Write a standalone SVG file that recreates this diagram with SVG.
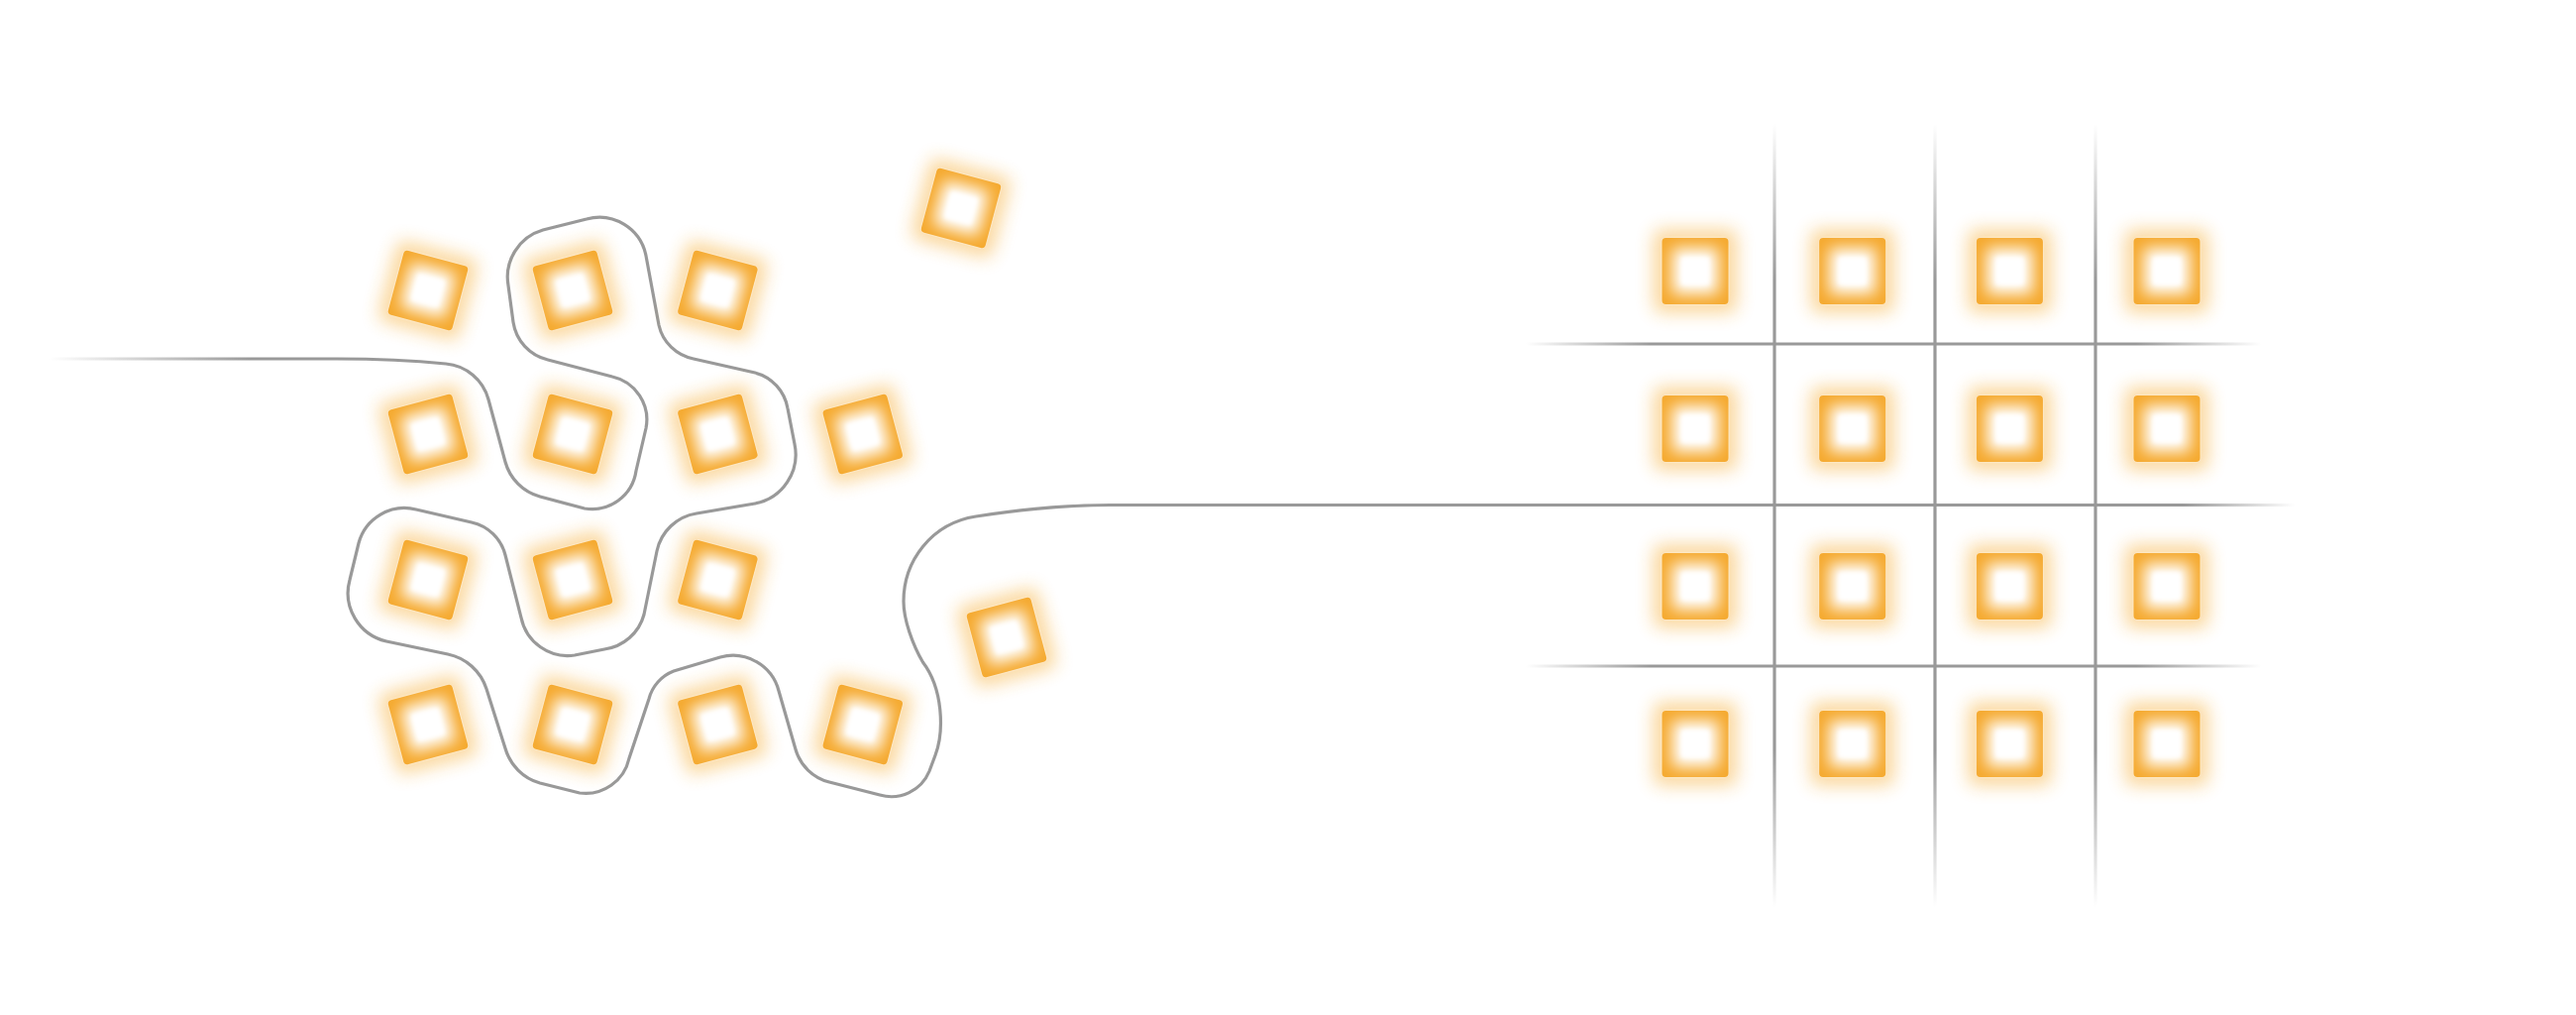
<svg xmlns="http://www.w3.org/2000/svg" width="2600" height="1024" viewBox="0 0 2600 1024">
<style>
.wire{fill:none;stroke-width:3.2}
.glow{fill:#f5a623;opacity:.45;filter:url(#b8)}
.core{fill:#f5a92e}
.ring{fill:none;stroke:#fde6c0;stroke-width:1.5}
.hole{fill:#fff;filter:url(#b5)}
.eye{fill:#fff;filter:url(#b2)}
</style>
<defs>
<filter id="b8" x="-60%" y="-60%" width="220%" height="220%"><feGaussianBlur stdDeviation="9"/></filter>
<filter id="b5" x="-80%" y="-80%" width="260%" height="260%"><feGaussianBlur stdDeviation="7.5"/></filter>
<filter id="b2" x="-60%" y="-60%" width="220%" height="220%"><feGaussianBlur stdDeviation="2"/></filter>
<linearGradient id="gMain" gradientUnits="userSpaceOnUse" x1="50" y1="0" x2="2316" y2="0">
<stop offset="0" stop-color="#999" stop-opacity="0"/><stop offset=".09" stop-color="#999"/><stop offset=".95" stop-color="#999"/><stop offset="1" stop-color="#999" stop-opacity="0"/>
</linearGradient>
<linearGradient id="gH" gradientUnits="userSpaceOnUse" x1="1540" y1="0" x2="2282" y2="0">
<stop offset="0" stop-color="#999" stop-opacity="0"/><stop offset=".17" stop-color="#999"/><stop offset=".83" stop-color="#999"/><stop offset="1" stop-color="#999" stop-opacity="0"/>
</linearGradient>
<linearGradient id="gV" gradientUnits="userSpaceOnUse" x1="0" y1="125" x2="0" y2="915">
<stop offset="0" stop-color="#999" stop-opacity="0"/><stop offset=".2" stop-color="#999"/><stop offset=".8" stop-color="#999"/><stop offset="1" stop-color="#999" stop-opacity="0"/>
</linearGradient>
<g id="sq">
<rect class="glow" x="-42" y="-42" width="84" height="84" rx="8"/>
<rect class="ring" x="-34" y="-34" width="68" height="68" rx="5"/>
<rect class="core" x="-33.5" y="-33.5" width="67" height="67" rx="4"/>
<rect class="hole" x="-23" y="-23" width="46" height="46"/>
<rect class="eye" x="-14" y="-14" width="28" height="28"/>
</g>
</defs>
<rect width="2600" height="1024" fill="#fff"/>
<g id="connectors">
<path id="wire-main" class="wire" stroke="url(#gMain)" d="M50 362H340Q400 362 450 367A49 49 0 0 1 493 403L510 466A50 50 0 0 0 545 501L590 513A45 45 0 0 0 642 475L652 432A44.5 44.5 0 0 0 618 380L553 363A46 46 0 0 1 518 325L513 288A49.5 49.5 0 0 1 548 232L592 221A48 48 0 0 1 652 258L665 328A44.5 44.5 0 0 0 700 362L762 376A45 45 0 0 1 795 412L802 448A50.5 50.5 0 0 1 762 508L703 518A48.5 48.5 0 0 0 663 556L650 620A48 48 0 0 1 610 655L580 661A48 48 0 0 1 526 623L510 560A45 45 0 0 0 476 527L420 514A48 48 0 0 0 362 548L353 585A50 50 0 0 0 390 647L452 660A52 52 0 0 1 491 695L510 755A51 51 0 0 0 545 790L585 800A45 45 0 0 0 635 765L655 705A41 41 0 0 1 680 677L727 663A48 48 0 0 1 786 697L803 756A47.5 47.5 0 0 0 837 789L888 802A41.5 41.5 0 0 0 938 778L944 762C953 738 952 695 931.4 668C921 650 912 625 912 606.7C912 566 940 528 985 521C1015 516 1070 509.5 1120 509.5H2316"/>
<path class="wire" stroke="url(#gH)" d="M1540 347H2282"/>
<path class="wire" stroke="url(#gH)" d="M1540 672H2282"/>
<path class="wire" stroke="url(#gV)" d="M1791 125V915"/>
<path class="wire" stroke="url(#gV)" d="M1953 125V915"/>
<path class="wire" stroke="url(#gV)" d="M2115 125V915"/>
</g>
<g id="scattered">
<g id="s1"><use href="#sq" transform="translate(432 293) rotate(15)"/></g>
<g id="s2"><use href="#sq" transform="translate(578 293) rotate(-15)"/></g>
<g id="s3"><use href="#sq" transform="translate(724.4 293) rotate(15)"/></g>
<g id="s4"><use href="#sq" transform="translate(970 210) rotate(15)"/></g>
<g id="s5"><use href="#sq" transform="translate(432 438) rotate(-15)"/></g>
<g id="s6"><use href="#sq" transform="translate(578 438) rotate(15)"/></g>
<g id="s7"><use href="#sq" transform="translate(724.4 438) rotate(-15)"/></g>
<g id="s8"><use href="#sq" transform="translate(870.8 438) rotate(-15)"/></g>
<g id="s9"><use href="#sq" transform="translate(432 585) rotate(15)"/></g>
<g id="s10"><use href="#sq" transform="translate(578 585) rotate(-15)"/></g>
<g id="s11"><use href="#sq" transform="translate(724.4 585) rotate(15)"/></g>
<g id="s12"><use href="#sq" transform="translate(1016 643) rotate(-15)"/></g>
<g id="s13"><use href="#sq" transform="translate(432 731) rotate(-15)"/></g>
<g id="s14"><use href="#sq" transform="translate(578 731) rotate(15)"/></g>
<g id="s15"><use href="#sq" transform="translate(724.4 731) rotate(-15)"/></g>
<g id="s16"><use href="#sq" transform="translate(870.8 731) rotate(15)"/></g>
</g>
<g id="grid">
<g id="a1"><use href="#sq" x="1711" y="273.5"/></g>
<g id="a2"><use href="#sq" x="1869.7" y="273.5"/></g>
<g id="a3"><use href="#sq" x="2028.4" y="273.5"/></g>
<g id="a4"><use href="#sq" x="2187" y="273.5"/></g>
<g id="b1"><use href="#sq" x="1711" y="432.5"/></g>
<g id="b2"><use href="#sq" x="1869.7" y="432.5"/></g>
<g id="b3"><use href="#sq" x="2028.4" y="432.5"/></g>
<g id="b4"><use href="#sq" x="2187" y="432.5"/></g>
<g id="c1"><use href="#sq" x="1711" y="591.5"/></g>
<g id="c2"><use href="#sq" x="1869.7" y="591.5"/></g>
<g id="c3"><use href="#sq" x="2028.4" y="591.5"/></g>
<g id="c4"><use href="#sq" x="2187" y="591.5"/></g>
<g id="d1"><use href="#sq" x="1711" y="750.5"/></g>
<g id="d2"><use href="#sq" x="1869.7" y="750.5"/></g>
<g id="d3"><use href="#sq" x="2028.4" y="750.5"/></g>
<g id="d4"><use href="#sq" x="2187" y="750.5"/></g>
</g>
</svg>
